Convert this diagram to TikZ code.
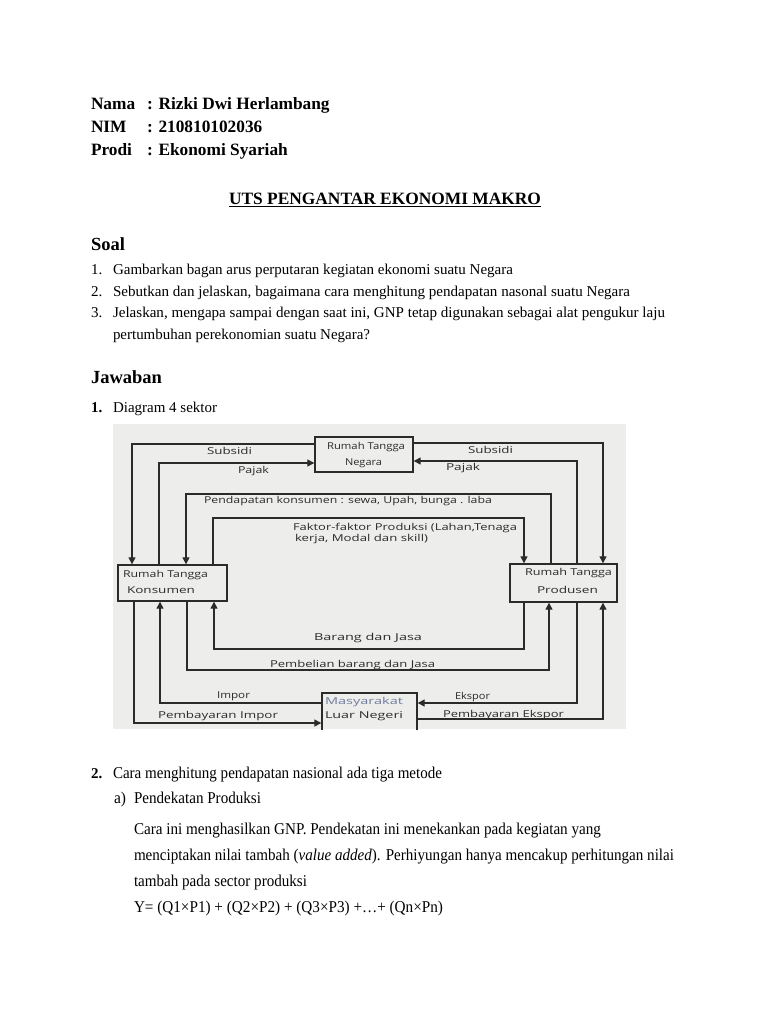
\documentclass[tikz,border=0pt]{standalone}
\usepackage{fontspec}
\usepackage{graphicx}
\setmainfont{Liberation Serif}
\newfontfamily\hand{Open Sans}
\usetikzlibrary{arrows.meta}
\newcommand\fw[2]{\resizebox{#1pt}{\height}{#2}}
\definecolor{ink}{HTML}{2B2B2B}
\definecolor{paper}{HTML}{EDEDEB}
\definecolor{bluish}{HTML}{6F7C9E}
\begin{document}
\begin{tikzpicture}[x=1pt,y=-1pt,
  txt/.style={inner sep=0pt,outer sep=0pt,anchor=base west,text=black},
  hdr/.style={txt,font=\fontsize{17.3}{20}\selectfont\bfseries},
  sec/.style={txt,font=\fontsize{18.5}{21}\selectfont\bfseries},
  body/.style={txt,font=\fontsize{15}{18}\selectfont},
  bodyb/.style={txt,font=\fontsize{15}{18}\selectfont\bfseries},
  bodyl/.style={txt,font=\fontsize{16.5}{19}\selectfont},
  box/.style={draw=ink,line width=1.4pt,inner sep=0pt},
  flow/.style={draw=ink,line width=1.3pt,-{Triangle[length=7pt,width=7pt]}},
  lab/.style={inner sep=0pt,outer sep=0pt,anchor=base west,text=ink,font=\hand\fontsize{9.5}{11}\selectfont},
]
\fill[white] (0,0) rectangle (768,1024);
\useasboundingbox (0,0) rectangle (768,1024);

% header
\node[hdr] (nama) at (91,109.5) {Nama};
\node[hdr] (namav) at (147,109.5) {: Rizki Dwi Herlambang};
\node[hdr] (nim) at (91,132.5) {NIM};
\node[hdr] (nimv) at (147,132.5) {: 210810102036};
\node[hdr] (prodi) at (91,156) {Prodi};
\node[hdr] (prodiv) at (147,156) {: Ekonomi Syariah};
\node[hdr] (title) at (229,205) {\fw{312}{\underline{UTS PENGANTAR EKONOMI MAKRO}}};

% soal
\node[sec] (soal) at (91,250) {Soal};
\node[body] (s1n) at (91,274) {1.};
\node[body] (s1) at (113,274) {\fw{400}{Gambarkan bagan arus perputaran kegiatan ekonomi suatu Negara}};
\node[body] (s2n) at (91,296) {2.};
\node[body] (s2) at (113,296) {\fw{517}{Sebutkan dan jelaskan, bagaimana cara menghitung pendapatan nasonal suatu Negara}};
\node[body] (s3n) at (91,317.5) {3.};
\node[body] (s3) at (113,317.5) {\fw{552}{Jelaskan, mengapa sampai dengan saat ini, GNP tetap digunakan sebagai alat pengukur laju}};
\node[body] (s3b) at (113,339) {\fw{257}{pertumbuhan perekonomian suatu Negara?}};

% jawaban
\node[sec] (jaw) at (91,383) {Jawaban};
\node[bodyb] (j1n) at (91,412) {1.};
\node[body] (j1) at (113,412) {Diagram 4 sektor};

% diagram
\begin{scope}
\clip (113,424) rectangle (626,729);
\fill[paper] (113,424) rectangle (626,729);
\node[box,minimum width=98pt,minimum height=35pt] (neg) at (364,454.5) {};
\node[box,minimum width=109pt,minimum height=36pt] (rtk) at (172.5,583) {};
\node[box,minimum width=107pt,minimum height=38pt] (rtp) at (563.5,583) {};
\node[box,minimum width=95pt,minimum height=42pt] (ln) at (369.5,714) {};

\node[lab] (negt1) at (327,449) {\fw{78}{Rumah Tangga}};
\node[lab] (negt2) at (345,465) {\fw{37}{Negara}};
\node[lab] (rtkt1) at (123,577) {\fw{85}{Rumah Tangga}};
\node[lab] (rtkt2) at (127,593) {\fw{68}{Konsumen}};
\node[lab] (rtpt1) at (525,575) {\fw{87}{Rumah Tangga}};
\node[lab] (rtpt2) at (537,593) {\fw{61}{Produsen}};
\node[lab,text=bluish] (lnt1) at (325,704) {\fw{78}{Masyarakat}};
\node[lab] (lnt2) at (325,718) {\fw{78}{Luar Negeri}};

\draw[flow] (neg.west |- 0,444) -| (rtk.north -| 132,0);
\draw[flow] (neg.east |- 0,443) -| (rtp.north -| 603,0);
\draw[flow] (rtk.north -| 159,0) |- (neg.west |- 0,463);
\draw[flow] (rtp.north -| 577,0) |- (neg.east |- 0,461);
\draw[flow] (rtp.north -| 551,0) -- (551,494) -| (rtk.north -| 186,0);
\draw[flow] (rtk.north -| 213,0) -- (213,518) -| (rtp.north -| 524,0);
\draw[flow] (rtp.south -| 524,0) -- (524,649) -| (rtk.south -| 214,0);
\draw[flow] (rtk.south -| 187,0) -- (187,670) -| (rtp.south -| 549,0);
\draw[flow] (ln.west |- 0,703) -| (rtk.south -| 160,0);
\draw[flow] (rtk.south -| 134,0) |- (ln.west |- 0,723);
\draw[flow] (rtp.south -| 577,0) |- (ln.east |- 0,703);
\draw[flow] (ln.east |- 0,719) -| (rtp.south -| 603,0);

\node[lab] (l1) at (207,454) {\fw{45}{Subsidi}};
\node[lab] (l2) at (238,473) {\fw{31}{Pajak}};
\node[lab] (l3) at (468,453) {\fw{45}{Subsidi}};
\node[lab] (l4) at (446,470) {\fw{34}{Pajak}};
\node[lab] (l5) at (204,503) {\fw{288}{Pendapatan konsumen : sewa, Upah, bunga . laba}};
\node[lab] (l6) at (293,530) {\fw{224}{Faktor-faktor Produksi (Lahan,Tenaga}};
\node[lab] (l7) at (295,541) {\fw{133}{kerja, Modal dan skill)}};
\node[lab] (l8) at (314,640) {\fw{108}{Barang dan Jasa}};
\node[lab] (l9) at (270,667) {\fw{165}{Pembelian barang dan Jasa}};
\node[lab] (l10) at (217,698) {\fw{33}{Impor}};
\node[lab] (l11) at (158,718) {\fw{120}{Pembayaran Impor}};
\node[lab] (l12) at (455,699) {\fw{35}{Ekspor}};
\node[lab] (l13) at (443,717) {\fw{121}{Pembayaran Ekspor}};
\end{scope}

% section 2
\node[bodyb] (a2n) at (91,778) {2.};
\node[bodyl] (a2) at (113,778) {\fw{329}{Cara menghitung pendapatan nasional ada tiga metode}};
\node[bodyl] (aa) at (114,803.5) {\fw{12}{a)}};
\node[bodyl] (aat) at (134,803.5) {\fw{127}{Pendekatan Produksi}};
\node[bodyl] (p1) at (134,834) {\fw{467}{Cara ini menghasilkan GNP. Pendekatan ini menekankan pada kegiatan yang}};
\node[bodyl] (p2) at (134,860) {\fw{540}{menciptakan nilai tambah (\textit{value added}). Perhiyungan hanya mencakup perhitungan nilai}};
\node[bodyl] (p3) at (134,886) {\fw{173}{tambah pada sector produksi}};
\node[bodyl] (p4) at (134,912) {\fw{309}{Y= (Q1×P1) + (Q2×P2) + (Q3×P3) +…+ (Qn×Pn)}};
\end{tikzpicture}
\end{document}
